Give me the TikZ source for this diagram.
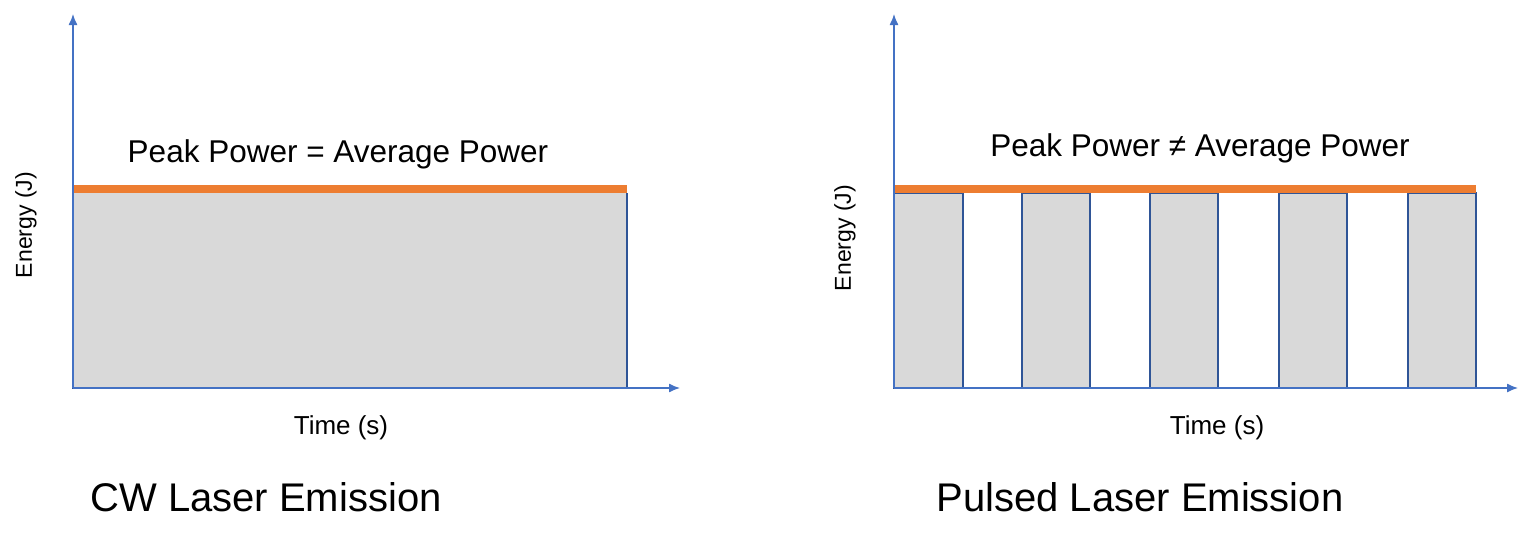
\documentclass[tikz,border=0pt]{standalone}
\usepackage{fontspec}
\setmainfont{Liberation Sans}
\begin{document}
\begin{tikzpicture}[x=1pt,y=-1pt,
  axis/.style={draw=axblue,line width=1.3pt,-{Latex[length=11pt,width=9pt]}},
  bar/.style={fill=bargray,draw=bardark,line width=2.5pt},
  peak/.style={draw=peako,line width=8pt},
  lab/.style={font=\fontsize{26}{30}\selectfont},
  ylab/.style={font=\fontsize{23}{27}\selectfont,rotate=90},
  pk/.style={font=\fontsize{31.5}{36}\selectfont},
  ttl/.style={font=\fontsize{40}{46}\selectfont}]
\usetikzlibrary{arrows.meta}
\definecolor{axblue}{HTML}{4472C4}
\definecolor{bardark}{HTML}{2F5597}
\definecolor{bargray}{HTML}{D9D9D9}
\definecolor{peako}{HTML}{ED7D31}
\useasboundingbox (0,0) rectangle (1536,546);
% left
\coordinate (lo) at (73,388);
\coordinate (ly) at (73,14);
\coordinate (lx) at (680,388);
\fill[bargray] (73,193) rectangle (627,388);
\draw[bardark,line width=2.5pt] (73,193) -- (73,388) -- (627,388) -- (627,193);
\draw[peak] (73,189) -- (627,189);
\draw[axis] (lo) -- (ly);
\draw[axis] (lo) -- (lx);
\node[ylab] (ley) at (26,225) {Energy (J)};
\node[lab] (ltx) at (341,428) {Time (s)};
\node[pk] (lpk) at (338,154) {Peak Power = Average Power};
\node[ttl] (lt) at (266,497) {CW Laser Emission};
% right
\coordinate (ro) at (894,388);
\coordinate (ry) at (894,14);
\coordinate (rx) at (1518,388);
\foreach \a/\b in {894/963,1022/1090,1150/1218,1279/1347,1408/1476}
  \draw[bar] (\a,193) rectangle (\b,388);
\draw[peak] (894,189) -- (1476,189);
\draw[axis] (ro) -- (ry);
\draw[axis] (ro) -- (rx);
\node[ylab] (rey) at (845,238) {Energy (J)};
\node[lab] (rtx) at (1217,428) {Time (s)};
\node[pk] (rpk) at (1200,148) {Peak Power ≠ Average Power};
\node[ttl] (rt) at (1140,497) {Pulsed Laser Emission};
\end{tikzpicture}
\end{document}
